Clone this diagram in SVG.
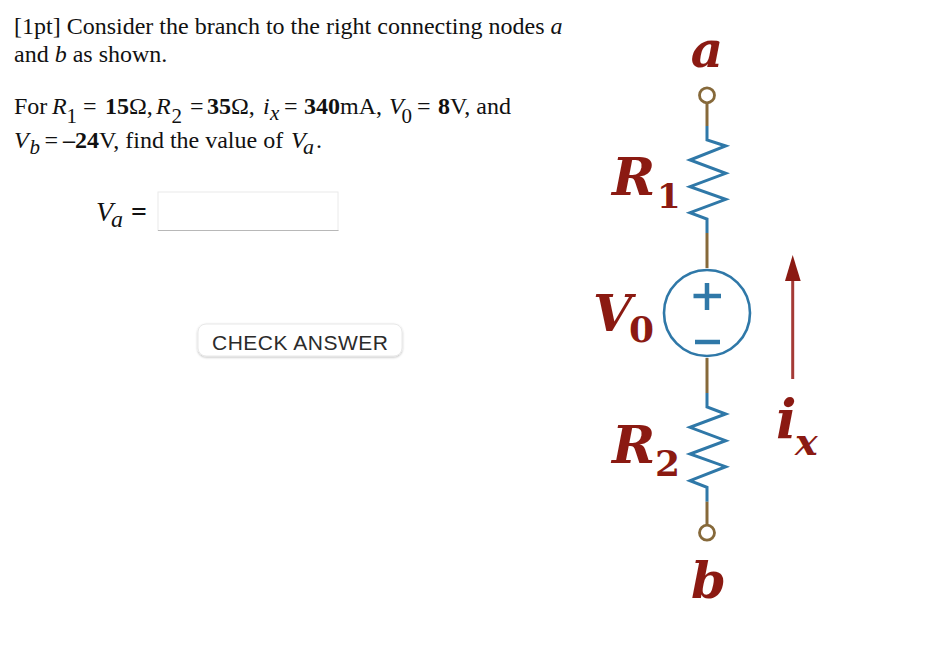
<svg xmlns="http://www.w3.org/2000/svg" width="948" height="648" viewBox="0 0 948 648">
<defs>
<filter id="btn" x="-5%" y="-15%" width="110%" height="140%"><feDropShadow dx="0" dy="1" stdDeviation="1" flood-color="#000" flood-opacity="0.25"/></filter>
</defs>
<style>
.t{font-family:"Liberation Serif","Times New Roman",serif;font-size:24px;fill:#111}
.u{font-size:21px}
.i{font-style:italic}
.b{font-weight:bold}
.m{font-family:"DejaVu Serif","Liberation Serif",serif;font-style:italic;font-weight:bold;fill:#8b1a12}
.sub{font-family:"DejaVu Serif","Liberation Serif",serif;font-weight:bold;fill:#8b1a12;font-size:36px}
.br{fill:none;stroke:#86693a;stroke-width:3}
.bl{fill:none;stroke:#2f78a8;stroke-width:3}
</style>
<rect width="948" height="648" fill="#fff"/>
<g id="question">
<text class="t" x="14" y="34">[1pt] Consider the branch to the right connecting nodes <tspan class="i">a</tspan></text>
<text class="t" x="14" y="62">and <tspan class="i">b</tspan> as shown.</text>
<text class="t" x="14" y="113.500">For</text>
<text class="t i" x="52" y="113.500">R</text>
<text class="t u" x="66.500" y="123">1</text>
<text class="t" x="83" y="113.500">=</text>
<text class="t" x="105" y="113.500"><tspan class="b">15</tspan>Ω,</text>
<text class="t i" x="156" y="113.500">R</text>
<text class="t u" x="171.500" y="123">2</text>
<text class="t" x="190" y="113.500">=</text>
<text class="t" x="207" y="113.500"><tspan class="b">35</tspan>Ω,</text>
<text class="t i" x="263" y="113.500">i</text>
<text class="t i u" x="270" y="120">x</text>
<text class="t" x="284" y="113.500">=</text>
<text class="t" x="304" y="113.500"><tspan class="b">340</tspan>mA,</text>
<text class="t i" x="389" y="113.500">V</text>
<text class="t u" x="401.500" y="123">0</text>
<text class="t" x="417" y="113.500">=</text>
<text class="t" x="438" y="113.500"><tspan class="b">8</tspan>V, and</text>
<text class="t i" x="14" y="147.500">V</text>
<text class="t i u" x="29.500" y="153.500">b</text>
<text class="t" x="44.500" y="147.500">=</text>
<text class="t" x="63" y="147.500"><tspan class="b">–24</tspan>V, find the value of</text>
<text class="t i" x="291" y="147.500">V</text>
<text class="t i" style="font-size:22px" x="303" y="153.500">a</text>
<text class="t" x="316" y="147.500">.</text>
</g>
<g id="answer">
<text class="t i" style="font-size:28px" x="96" y="221">V</text>
<text class="t i" style="font-size:24px" x="111" y="227">a</text>
<text class="t b" style="font-size:28px" x="131" y="221">=</text>
<rect x="158" y="192" width="180" height="38.500" fill="#fff" stroke="#eaeaea" stroke-width="1"/>
<line x1="158" y1="230.500" x2="338.500" y2="230.500" stroke="#b8b8b8" stroke-width="1.200"/>
</g>
<g id="check-answer">
<rect x="198" y="324" width="204" height="32" rx="8" fill="#fff" stroke="#e8e8e8" stroke-width="1" filter="url(#btn)"/>
<text x="212" y="350" font-family="'Liberation Sans',Arial,sans-serif" font-size="21" fill="#2b2b2b" textLength="176">CHECK ANSWER</text>
</g>
<g id="connectors">
<path class="br" d="M707 103V126"/>
<path class="bl" d="M707 126V140L725.700 146L690 160L725.700 173.300L690 186.700L725.700 199.300L690 212.700L707 219V233"/>
<path class="br" d="M707 233V268"/>
<path class="br" d="M707 358V393"/>
<path class="bl" d="M707 393V407L725.700 414L690 427.300L725.700 440.700L690 454L725.700 466.700L690 480.700L707 487.300V501.700"/>
<path class="br" d="M707 501.700V525"/>
<path d="M792.700 379V280" fill="none" stroke="#a53a36" stroke-width="3"/>
<path d="M792.700 255L800.700 281H785Z" fill="#8b1a12"/>
</g>
<g id="node-a">
<circle cx="707" cy="95.300" r="7.500" fill="#fff" stroke="#86693a" stroke-width="2.800"/>
<text class="m" x="707" y="67" text-anchor="middle" font-size="50">a</text>
</g>
<g id="node-r1">
<text class="m" x="612" y="195" font-size="52">R</text>
<text class="sub" style="font-size:34px" x="657" y="208">1</text>
</g>
<g id="node-v0">
<circle cx="707" cy="313" r="43" fill="#fff" stroke="#2f78a8" stroke-width="2.600"/>
<path d="M693.500 296H721M707 283V310" fill="none" stroke="#2f78a8" stroke-width="4.500"/>
<path d="M695 342H720" fill="none" stroke="#2f78a8" stroke-width="4.500"/>
<text class="m" x="593" y="331" font-size="50">V</text>
<text class="sub" x="629" y="342">0</text>
</g>
<g id="node-r2">
<text class="m" x="612" y="463" font-size="52">R</text>
<text class="sub" x="655" y="476">2</text>
</g>
<g id="node-b">
<circle cx="707" cy="532.700" r="7.500" fill="#fff" stroke="#86693a" stroke-width="2.800"/>
<text class="m" x="708.500" y="598" text-anchor="middle" font-size="50">b</text>
</g>
<g id="label-ix">
<text class="m" x="776" y="438" font-size="54">i</text>
<text class="m" x="795" y="455" font-size="38">x</text>
</g>
</svg>
